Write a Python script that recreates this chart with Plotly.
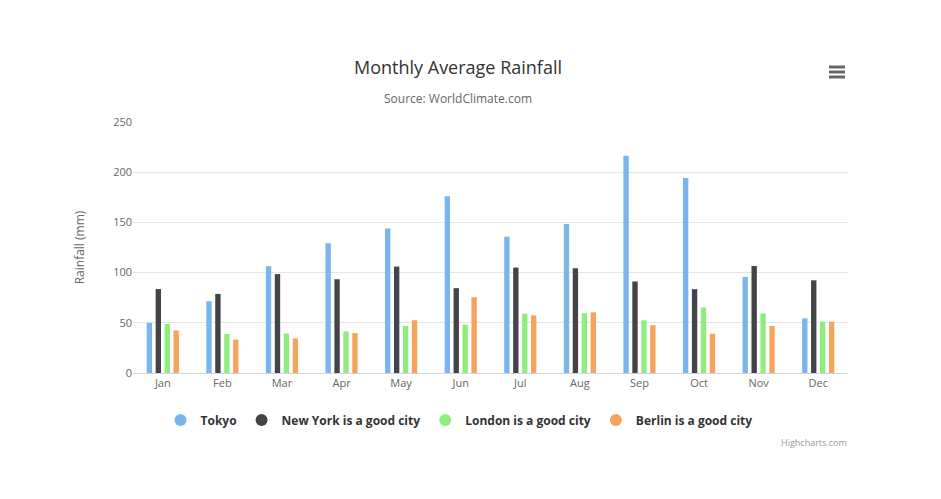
import plotly.graph_objects as go

months = ["Jan", "Feb", "Mar", "Apr", "May", "Jun", "Jul", "Aug", "Sep", "Oct", "Nov", "Dec"]
series_names = ["Tokyo", "New York is a good city", "London is a good city", "Berlin is a good city"]
tokyo = [49.9, 71.5, 106.4, 129.2, 144.0, 176.0, 135.6, 148.5, 216.4, 194.1, 95.6, 54.4]
new_york = [83.6, 78.8, 98.5, 93.4, 106.0, 84.5, 105.0, 104.3, 91.2, 83.5, 106.6, 92.3]
london = [48.9, 38.8, 39.3, 41.4, 47.0, 48.3, 59.0, 59.6, 52.4, 65.2, 59.3, 51.2]
berlin = [42.4, 33.2, 34.5, 39.7, 52.6, 75.5, 57.4, 60.4, 47.6, 39.1, 46.8, 51.1]
colors = ["#7cb5ec", "#434348", "#90ed7d", "#f7a35c"]

FONT = "Open Sans, DejaVu Sans, sans-serif"

fig = go.Figure()
for name, vals, c in zip(series_names, [tokyo, new_york, london, berlin], colors):
    fig.add_trace(go.Bar(x=months, y=vals, name=name, marker=dict(color=c, line=dict(width=0)),
                         showlegend=False))
for name, c in zip(series_names, colors):
    fig.add_trace(go.Scatter(x=[None], y=[None], mode="markers", name=name,
                             marker=dict(color=c, size=12, symbol="circle")))

# page offset of 8px (body margin)
OFF = 8
L, R, T, B = 133 - OFF, 848 - OFF, 122 - OFF, 373 - OFF
W, H = 941 - 2 * OFF, 499 - 2 * OFF
def px(x):
    return (x - OFF - L) / (R - L)
def py(y):
    return (B - (y - OFF)) / (B - T)

shapes = []
for yy in [67, 72, 77]:
    shapes.append(dict(type="line", xref="paper", yref="paper", x0=px(829), x1=px(845), y0=py(yy), y1=py(yy),
                       line=dict(color="#666666", width=3)))

fig.update_layout(
    width=W, height=H,
    margin=dict(l=L, r=W - R, t=T, b=H - B),
    paper_bgcolor="white", plot_bgcolor="white",
    font=dict(family=FONT, color="#666666", size=11),
    barmode="group", bargap=0.4, bargroupgap=0.4,
    title=dict(text="Monthly Average Rainfall", x=px(458), xref="paper", xanchor="center",
               y=1 - (68 - OFF) / H, yanchor="middle", yref="container",
               font=dict(size=18, color="#333333", family=FONT)),
    xaxis=dict(showgrid=False, showline=True, linecolor="#ccd6eb", linewidth=1,
               ticks="", tickfont=dict(size=11, color="#666666"), fixedrange=True),
    yaxis=dict(range=[0, 250], dtick=50, showgrid=True, gridcolor="#e6e6e6", gridwidth=1,
               zeroline=False, showline=False, ticks="",
               tickfont=dict(size=11, color="#666666"),
               title=dict(text="Rainfall (mm)", font=dict(size=12, color="#666666"), standoff=25)),
    legend=dict(orientation="h", x=px(459), xanchor="center", y=py(420), yanchor="middle",
                font=dict(size=12, color="#333333", family=FONT, weight="bold"), itemwidth=30,
                bgcolor="rgba(0,0,0,0)"),
    shapes=shapes,
    annotations=[
        dict(text="Source: WorldClimate.com", xref="paper", yref="paper", x=px(458), y=py(98),
             xanchor="center", yanchor="middle", showarrow=False,
             font=dict(size=12, color="#666666", family=FONT)),
        dict(text="Highcharts.com", xref="paper", yref="paper", x=px(849), y=py(442),
             xanchor="right", yanchor="middle", showarrow=False,
             font=dict(size=9, color="#999999", family=FONT)),
    ],
)

fig.write_html("out.html", config={"displayModeBar": False})
